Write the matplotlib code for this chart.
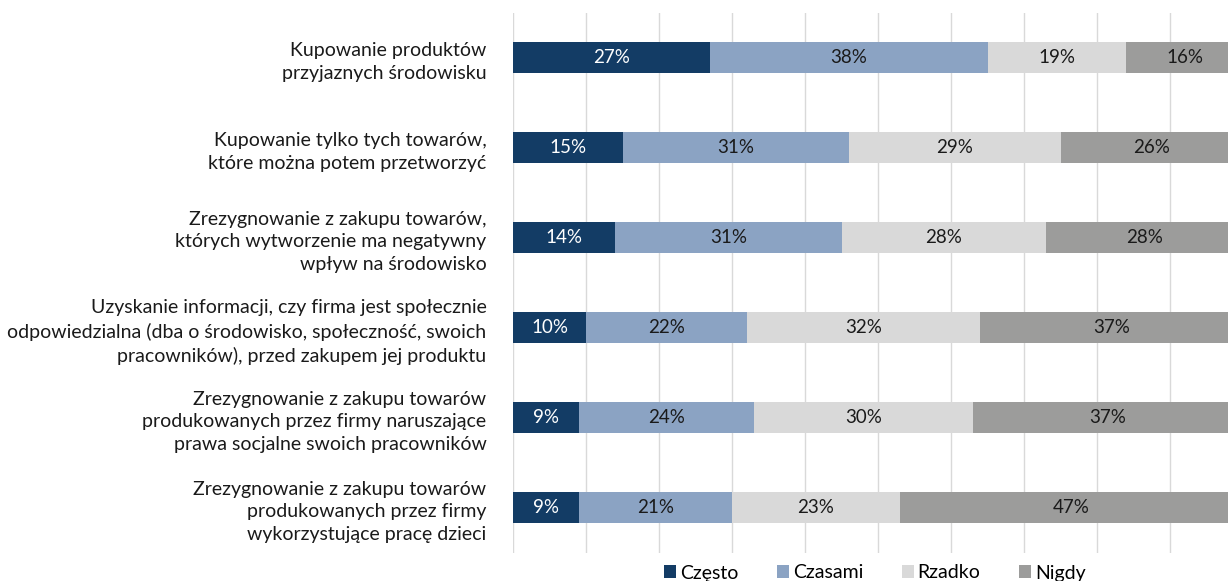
import matplotlib.pyplot as plt
import numpy as np

#---DATA---
categories = [
    "Kupowanie produktów\nprzyjaznych środowisku",
    "Kupowanie tylko tych towarów,\nktóre można potem przetworzyć",
    "Zrezygnowanie z zakupu towarów,\nktórych wytworzenie ma negatywny\nwpływ na środowisko",
    "Uzyskanie informacji, czy firma jest społecznie\nodpowiedzialna (dba o środowisko, społeczność, swoich\npracowników), przed zakupem jej produktu",
    "Zrezygnowanie z zakupu towarów\nprodukowanych przez firmy naruszające\nprawa socjalne swoich pracowników",
    "Zrezygnowanie z zakupu towarów\nprodukowanych przez firmy\nwykorzystujące pracę dzieci",
]
series_names = ["Często", "Czasami", "Rzadko", "Nigdy"]
czesto = [27, 15, 14, 10, 9, 9]
czasami = [38, 31, 31, 22, 24, 21]
rzadko = [19, 29, 28, 32, 30, 23]
nigdy = [16, 26, 28, 37, 37, 47]

colors = ['#133c65', '#8ba3c3', '#d9d9d9', '#9c9c9b']
label_colors = ['white', '#1a1a1a', '#1a1a1a', '#1a1a1a']

plt.rcParams['font.family'] = ['Lato', 'DejaVu Sans']

#---PLOT---
W, H = 1228, 581
fig = plt.figure(figsize=(W / 100, H / 100), dpi=100)
# axes runs past the right edge, like the cropped original
ax = fig.add_axes([513 / W, 28.5 / H, 730 / W, 540 / H])

y = np.arange(len(categories))
left = np.zeros(len(categories))
for name, vals, col, lcol in zip(series_names, [czesto, czasami, rzadko, nigdy], colors, label_colors):
    vals = np.array(vals)
    bars = ax.barh(y, vals, 0.345, left=left, color=col, label=name, zorder=3)
    ax.bar_label(bars, labels=[f'{v}%' for v in vals], label_type='center',
                 color=lcol, fontsize=13.5, zorder=4)
    left += vals

#---FORMATTING---
ax.set_xlim(0, 100)
ax.set_ylim(5.5, -0.5)
ax.set_xticks(np.arange(0, 101, 10))
ax.set_xticklabels([])
ax.grid(axis='x', color='#d9d9d9', linewidth=1, zorder=0)
for s in ax.spines.values():
    s.set_visible(False)
ax.tick_params(length=0)
ax.set_yticks(y)
ax.set_yticklabels(categories, fontsize=14, color='#1a1a1a', linespacing=1.42, ha='right')
ax.tick_params(axis='y', pad=19)

fig.legend(loc='center', bbox_to_anchor=(875 / W, 8 / H), ncol=4, frameon=False,
           fontsize=14, handlelength=0.6, handleheight=0.6, handletextpad=0.2,
           columnspacing=2.0, borderaxespad=0)

plt.savefig('out.png', dpi=100)
